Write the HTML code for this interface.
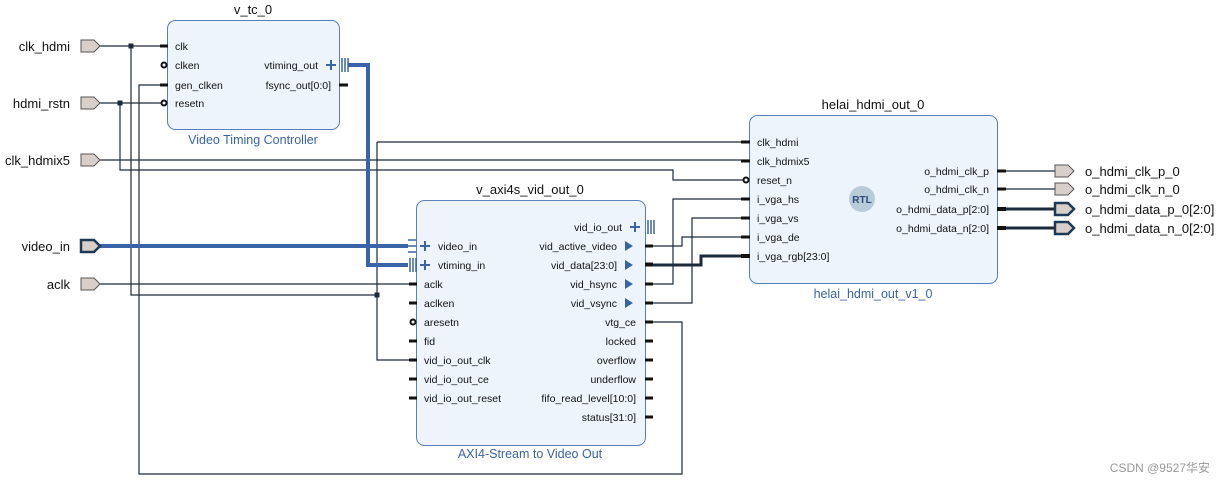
<!DOCTYPE html>
<html><head><style>
body{margin:0;background:#fff}
svg{display:block}
text{font-family:"Liberation Sans",Arial,sans-serif}
.p{font-size:10.5px;fill:#111}
.t{font-size:13px;fill:#111}
.s{font-size:12.5px;fill:#3a64a8}
.e{font-size:13px;fill:#111}
</style></head><body>
<svg width="1225" height="485" viewBox="0 0 1225 485" xmlns="http://www.w3.org/2000/svg">
<rect width="1225" height="485" fill="#fff"/>
<!-- wires thin -->
<g stroke="#1c2b3c" stroke-width="1.2" fill="none">
<path d="M100 46H167"/>
<path d="M131 46V295H377"/>
<path d="M377 142V360H416"/>
<path d="M377 142H749"/>
<path d="M167 85H139V474H682V322H645"/>
<path d="M100 103H167"/>
<path d="M120 103V170H673V180H749"/>
<path d="M100 160H749"/>
<path d="M100 284H416"/>
<path d="M645 246H682V237H749"/>
<path d="M645 284H673V199H749"/>
<path d="M645 303H692V218H749"/>
<path d="M997 171H1055"/>
<path d="M997 189H1055"/>
</g>
<g stroke="#1c2b3c" stroke-width="3" fill="none">
<path d="M645 265H701V256H749"/>
<path d="M997 209H1055"/>
<path d="M997 228H1055"/>
</g>
<g fill="#1c2b3c">
<rect x="128.5" y="43.5" width="5" height="5"/>
<rect x="117.5" y="100.5" width="5" height="5"/>
<rect x="374.5" y="292.5" width="5" height="5"/>
</g>
<!-- thick blue buses -->
<g stroke="#3a64a8" stroke-width="4" fill="none">
<path d="M348 65H368V265H408"/>
<path d="M100 246H408"/>
</g>
<!-- blocks -->
<rect x="167.5" y="20.5" width="172" height="109" rx="8" fill="#edf4fc" stroke="#5a7fbd"/>
<rect x="416.5" y="200.5" width="229" height="245" rx="8" fill="#edf4fc" stroke="#5a7fbd"/>
<rect x="749.5" y="115.5" width="248" height="168" rx="8" fill="#edf4fc" stroke="#5a7fbd"/>
<text class="t" x="253" y="14" text-anchor="middle">v_tc_0</text>
<text class="s" x="253" y="144" text-anchor="middle">Video Timing Controller</text>
<text class="t" x="530" y="194" text-anchor="middle">v_axi4s_vid_out_0</text>
<text class="s" x="530" y="458" text-anchor="middle">AXI4-Stream to Video Out</text>
<text class="t" x="873" y="109" text-anchor="middle">helai_hdmi_out_0</text>
<text class="s" x="873" y="298" text-anchor="middle">helai_hdmi_out_v1_0</text>
<!-- pin stubs -->
<g fill="#111">
<rect x="160" y="44.5" width="8" height="3"/>
<rect x="160" y="83.5" width="8" height="3"/>
<rect x="339" y="83.5" width="9" height="3"/>
<rect x="409" y="282.5" width="8" height="3"/>
<rect x="409" y="301.5" width="8" height="3"/>
<rect x="409" y="339.5" width="8" height="3"/>
<rect x="409" y="358.5" width="8" height="3"/>
<rect x="409" y="377.5" width="8" height="3"/>
<rect x="409" y="396.5" width="8" height="3"/>
<rect x="645" y="244.5" width="8" height="3"/>
<rect x="645" y="262.5" width="8" height="4"/>
<rect x="645" y="282.5" width="8" height="3"/>
<rect x="645" y="301.5" width="8" height="3"/>
<rect x="645" y="320.5" width="8" height="3"/>
<rect x="645" y="339.5" width="8" height="3"/>
<rect x="645" y="358.5" width="8" height="3"/>
<rect x="645" y="377.5" width="8" height="3"/>
<rect x="645" y="396.5" width="8" height="3"/>
<rect x="645" y="415.5" width="8" height="3"/>
<rect x="741" y="140.5" width="9" height="3"/>
<rect x="741" y="159.5" width="9" height="3"/>
<rect x="741" y="197.5" width="9" height="3"/>
<rect x="741" y="216.5" width="9" height="3"/>
<rect x="741" y="235.5" width="9" height="3"/>
<rect x="741" y="254" width="9" height="4"/>
<rect x="997" y="169.5" width="9" height="3"/>
<rect x="997" y="187.5" width="9" height="3"/>
<rect x="997" y="207" width="9" height="4"/>
<rect x="997" y="226" width="9" height="4"/>
</g>
<g fill="#fff" stroke="#111" stroke-width="2">
<circle cx="164" cy="65" r="2.5"/><circle cx="164" cy="103" r="2.5"/>
<circle cx="413" cy="322" r="2.5"/><circle cx="746" cy="180" r="2.5"/>
</g>
<!-- bus connectors -->
<g stroke="#3a64a8" stroke-width="1.5">
<path d="M342 58V72M345 58V72M348 58V72"/>
<path d="M648 220V234M651 220V234M654 220V234"/>
<path d="M410 258V272M413 258V272M416 258V272"/>
<path d="M408 240H416M408 246H416M408 252H416"/>
</g>
<g stroke="#3a64a8" stroke-width="2">
<path d="M326 65h10M331 60v10"/>
<path d="M630 227h10M635 222v10"/>
<path d="M420 246h10M425 241v10"/>
<path d="M420 265h10M425 260v10"/>
</g>
<g fill="#3a64a8">
<path d="M625 241l8 5-8 5z"/><path d="M625 260l8 5-8 5z"/>
<path d="M625 279l8 5-8 5z"/><path d="M625 298l8 5-8 5z"/>
</g>
<!-- RTL icon -->
<circle cx="862" cy="199" r="13" fill="#b8cbd9"/>
<text x="862" y="203" text-anchor="middle" style="font-size:10px;font-weight:bold;fill:#2d4a78">RTL</text>
<!-- pin labels -->
<g class="p">
<text x="175" y="50">clk</text><text x="175" y="69">clken</text>
<text x="175" y="89">gen_clken</text><text x="175" y="107">resetn</text>
<text x="318" y="69" text-anchor="end">vtiming_out</text>
<text x="331" y="89" text-anchor="end">fsync_out[0:0]</text>
<text x="438" y="250">video_in</text><text x="438" y="269">vtiming_in</text>
<text x="424" y="288">aclk</text><text x="424" y="307">aclken</text>
<text x="424" y="326">aresetn</text><text x="424" y="345">fid</text>
<text x="424" y="364">vid_io_out_clk</text><text x="424" y="383">vid_io_out_ce</text>
<text x="424" y="402">vid_io_out_reset</text>
<g text-anchor="end">
<text x="622" y="231">vid_io_out</text>
<text x="617" y="250">vid_active_video</text>
<text x="617" y="269">vid_data[23:0]</text>
<text x="617" y="288">vid_hsync</text>
<text x="617" y="307">vid_vsync</text>
<text x="636" y="326">vtg_ce</text>
<text x="636" y="345">locked</text>
<text x="636" y="364">overflow</text>
<text x="636" y="383">underflow</text>
<text x="636" y="402">fifo_read_level[10:0]</text>
<text x="636" y="421">status[31:0]</text>
<text x="989" y="175">o_hdmi_clk_p</text>
<text x="989" y="193">o_hdmi_clk_n</text>
<text x="989" y="213">o_hdmi_data_p[2:0]</text>
<text x="989" y="232">o_hdmi_data_n[2:0]</text>
</g>
<text x="757" y="146">clk_hdmi</text><text x="757" y="165">clk_hdmix5</text>
<text x="757" y="184">reset_n</text><text x="757" y="203">i_vga_hs</text>
<text x="757" y="222">i_vga_vs</text><text x="757" y="241">i_vga_de</text>
<text x="757" y="260">i_vga_rgb[23:0]</text>
</g>
<!-- external ports -->
<g fill="#d9cfc9" stroke="#555" stroke-width="1">
<path d="M81 40h13l6 6-6 6h-13z"/>
<path d="M81 97h13l6 6-6 6h-13z"/>
<path d="M81 154h13l6 6-6 6h-13z"/>
<path d="M81 278h13l6 6-6 6h-13z"/>
<path d="M1055 165h13l6 6-6 6h-13z"/>
<path d="M1055 183h13l6 6-6 6h-13z"/>
</g>
<g fill="#d9cfc9" stroke="#1c3a5a" stroke-width="2.5">
<path d="M81 240h13l6 6-6 6h-13z"/>
<path d="M1055 203h13l6 6-6 6h-13z"/>
<path d="M1055 222h13l6 6-6 6h-13z"/>
</g>
<g class="e" text-anchor="end">
<text x="70" y="51">clk_hdmi</text><text x="70" y="108">hdmi_rstn</text>
<text x="70" y="165">clk_hdmix5</text><text x="70" y="251">video_in</text>
<text x="70" y="289">aclk</text>
</g>
<g class="e">
<text x="1085" y="176">o_hdmi_clk_p_0</text><text x="1085" y="194">o_hdmi_clk_n_0</text>
<text x="1085" y="214">o_hdmi_data_p_0[2:0]</text><text x="1085" y="233">o_hdmi_data_n_0[2:0]</text>
</g>
<text x="1210" y="472" text-anchor="end" style="font-size:12px;fill:#999;font-family:'Liberation Sans','Noto Sans CJK SC',sans-serif">CSDN @9527华安</text>
</svg>
</body></html>
